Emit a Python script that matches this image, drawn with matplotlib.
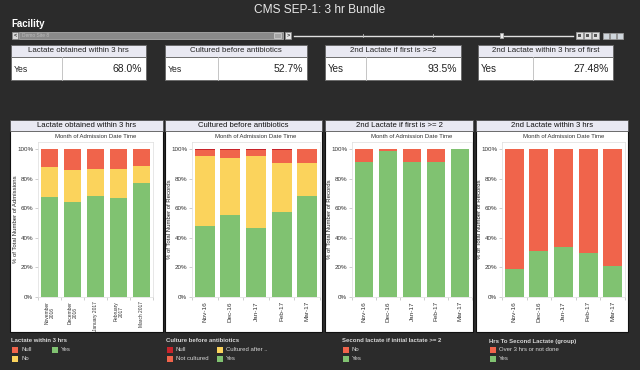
import matplotlib
matplotlib.use("Agg")
import matplotlib.pyplot as plt
from matplotlib.patches import Rectangle
from matplotlib.ticker import FixedLocator, PercentFormatter

plt.rcParams['font.family'] = ['Liberation Sans', 'DejaVu Sans']

# ---------------- data ----------------
months_long = ["November\n2016", "December\n2016", "January 2017", "February\n2017", "March 2017"]
months_short = ["Nov-16", "Dec-16", "Jan-17", "Feb-17", "Mar-17"]

kpi_titles = ["Lactate obtained within 3 hrs", "Cultured before antibiotics",
              "2nd Lactate if first is >=2", "2nd Lactate within 3 hrs of first"]
kpi_labels = ["Yes", "Yes", "Yes", "Yes"]
kpi_values = ["68.0%", "52.7%", "93.5%", "27.48%"]

panel_titles = ["Lactate obtained within 3 hrs", "Cultured before antibiotics",
                "2nd Lactate if first is >= 2", "2nd Lactate within 3 hrs"]
ylabels = ["% of Total Number of Admissions", "% of Total Number of Records",
           "% of Total Number of Records", "% of Total Number of Records"]

lact_yes = [67.9, 64.0, 68.3, 67.2, 76.9]
lact_no = [20.3, 21.7, 18.4, 19.5, 11.8]
lact_null = [11.8, 14.3, 13.3, 13.3, 11.3]

cult_yes = [47.7, 55.2, 46.4, 57.2, 68.1]
cult_after = [47.5, 38.7, 49.1, 33.7, 22.8]
cult_not = [4.4, 5.7, 4.1, 8.6, 9.1]
cult_null = [0.4, 0.4, 0.4, 0.5, 0.0]

second_yes = [91.2, 98.4, 91.2, 91.6, 100.0]
second_no = [8.8, 1.6, 8.8, 8.4, 0.0]

within_yes = [19.0, 31.4, 33.7, 29.6, 20.8]
within_over = [81.0, 68.6, 66.3, 70.4, 79.2]

GREEN = "#80c271"
YELLOW = "#fbd35c"
RED = "#f0644b"
DARKRED = "#c8242b"
BG = "#2b2b2b"
HEAD = "#e9e9f2"
TXT = "#d8d8d8"

W, H = 640, 370
fig = plt.figure(figsize=(6.4, 3.7), dpi=100, facecolor=BG)

# background axes in pixel coordinates
bg = fig.add_axes([0, 0, 1, 1])
bg.set_xlim(0, W)
bg.set_ylim(H, 0)
bg.axis("off")
bg.set_facecolor(BG)

def rect(x0, y0, x1, y1, fc, ec="none", lw=0.6, z=1):
    bg.add_patch(Rectangle((x0, y0), x1 - x0, y1 - y0, facecolor=fc, edgecolor=ec, linewidth=lw, zorder=z))

# title
bg.text(320, 10, "CMS SEP-1: 3 hr Bundle", color="#e8e8e8", fontsize=8.6, ha="center", va="center")
bg.text(11, 24, "Facility", color="white", fontsize=7, fontweight="bold", ha="left", va="center")

# slider / selector
rect(12, 32, 18, 39, "#d9d9d9", "#888888")
bg.text(15, 35.5, "<", fontsize=4, ha="center", va="center", color="#333333", fontweight="bold")
rect(19, 32, 283, 39, "#8a8a8a", "#aaaaaa")
bg.text(22, 35.5, "Demo Site 8", fontsize=3.5, ha="left", va="center", color="#bbbbbb")
rect(274, 33, 281, 38, "#a5a5a5", "#cccccc")
rect(285, 32, 291, 39, "#e5e5e5", "#888888")
bg.text(288, 35.5, ">", fontsize=4, ha="center", va="center", color="#333333", fontweight="bold")
bg.plot([294, 573], [35.5, 35.5], color="#e0e0e0", lw=1.0, zorder=2)
for tx in [363, 433]:
    bg.plot([tx, tx], [34, 37], color="#bbbbbb", lw=0.6, zorder=2)
rect(500, 33, 503, 38, "#eeeeee", "#aaaaaa", z=3)
for i, bx in enumerate([576, 584, 592]):
    rect(bx, 32, bx + 7, 39, "#e0e0e0", "#999999")
    rect(bx + 2, 34, bx + 5, 37, "#555555")
for bx in [603, 610, 617]:
    rect(bx, 33, bx + 6, 39, "#cfd6dc", "#999999")

# KPI boxes
kpi_x = [(11, 146), (165, 307), (325, 461), (478, 613)]
kpi_div = [62, 218, 366, 533]
for (x0, x1), dv, t, lab, val, i in zip(kpi_x, kpi_div, kpi_titles, kpi_labels, kpi_values, range(4)):
    rect(x0, 45, x1, 57, HEAD, "#666666")
    rect(x0, 57, x1, 80, "white", "#666666")
    bg.plot([dv, dv], [57, 80], color="#bbbbbb", lw=0.6, zorder=2)
    bg.text((x0 + x1) / 2, 51, t, fontsize=5.7, ha="center", va="center", color="#222222")
    fs = 6.2 if i < 2 else 7
    bg.text(x0 + 3, 69, lab, fontsize=fs, ha="left", va="center", color="#222222")
    bg.text(x1 - 4, 69, val, fontsize=7.5, ha="right", va="center", color="#222222")

# chart panels
panel_x = [(10, 163), (165, 322), (325, 473), (476, 628)]
plot_x = [(38, 153), (192, 320), (352, 472), (502, 625)]
PT, PB = 142, 297

series = [
    [(lact_yes, GREEN), (lact_no, YELLOW), (lact_null, RED)],
    [(cult_yes, GREEN), (cult_after, YELLOW), (cult_not, RED), (cult_null, DARKRED)],
    [(second_yes, GREEN), (second_no, RED)],
    [(within_yes, GREEN), (within_over, RED)],
]
xlabels = [months_long, months_short, months_short, months_short]
xfont = [3.5, 4.6, 4.6, 4.6]

for k in range(4):
    px0, px1 = panel_x[k]
    rect(px0, 120, px1, 332, "white", "#111111", lw=0.8)
    rect(px0, 120, px1, 131, HEAD, "#555555", lw=0.6)
    bg.text((px0 + px1) / 2, 125.5, panel_titles[k], fontsize=5.6, ha="center", va="center", color="#111111")
    ax0, ax1 = plot_x[k]
    bg.text((ax0 + ax1) / 2, 136.5, "Month of Admission Date Time", fontsize=4.3,
            ha="center", va="center", color="#333333", zorder=3)

    ax = fig.add_axes([ax0 / W, 1 - PB / H, (ax1 - ax0) / W, (PB - PT) / H])
    ax.set_facecolor("white")
    x = list(range(5))
    bottom = [0.0] * 5
    for vals, col in series[k]:
        ax.bar(x, vals, bottom=bottom, width=0.78, color=col, linewidth=0)
        bottom = [b + v for b, v in zip(bottom, vals)]
    ax.set_xlim(-0.5, 4.5)
    ax.set_ylim(0, 104.8)
    ax.set_yticks([0, 20, 40, 60, 80, 100])
    ax.yaxis.set_major_formatter(PercentFormatter(decimals=0))
    ax.set_xticks(x)
    ax.set_xticklabels(xlabels[k], rotation=90, fontsize=xfont[k], color="#333333",
                       linespacing=1.0)
    ax.xaxis.set_minor_locator(FixedLocator([i - 0.5 for i in range(6)]))
    ax.tick_params(axis="x", which="major", length=0, pad=3)
    ax.tick_params(axis="x", which="minor", length=2, color="#bbbbbb", width=0.5)
    ax.tick_params(axis="y", labelsize=4.5, length=2, color="#bbbbbb", width=0.5,
                   labelcolor="#333333", pad=1.5)
    ax.set_ylabel(ylabels[k], fontsize=4.3, color="#222222")
    ax.yaxis.set_label_coords(-20.0 / (ax1 - ax0), 0.5)
    for s in ax.spines.values():
        s.set_color("#dddddd")
        s.set_linewidth(0.5)

# legends
legends = [
    ("Lactate within 3 hrs", 11, [("Null", RED, 0, 0), ("Yes", GREEN, 40, 0), ("No", YELLOW, 0, 1)]),
    ("Culture before antibiotics", 166, [("Null", DARKRED, 0, 0), ("Cultured after ..", YELLOW, 50, 0),
                                         ("Not cultured", RED, 0, 1), ("Yes", GREEN, 50, 1)]),
    ("Second lactate if initial lactate >= 2", 342, [("No", RED, 0, 0), ("Yes", GREEN, 0, 1)]),
    ("Hrs To Second Lactate (group)", 489, [("Over 3 hrs or not done", RED, 0, 0), ("Yes", GREEN, 0, 1)]),
]
for title, lx, items in legends:
    bg.text(lx, 341, title, fontsize=4.3, fontweight="bold", color=TXT, ha="left", va="center")
    for lab, col, dx, row in items:
        yy = 349.5 + row * 9
        rect(lx + dx + 1, yy - 3, lx + dx + 7, yy + 3, col)
        bg.text(lx + dx + 10, yy, lab, fontsize=4.3, color=TXT, ha="left", va="center")

fig.savefig("out.png", dpi=100, facecolor=BG)
